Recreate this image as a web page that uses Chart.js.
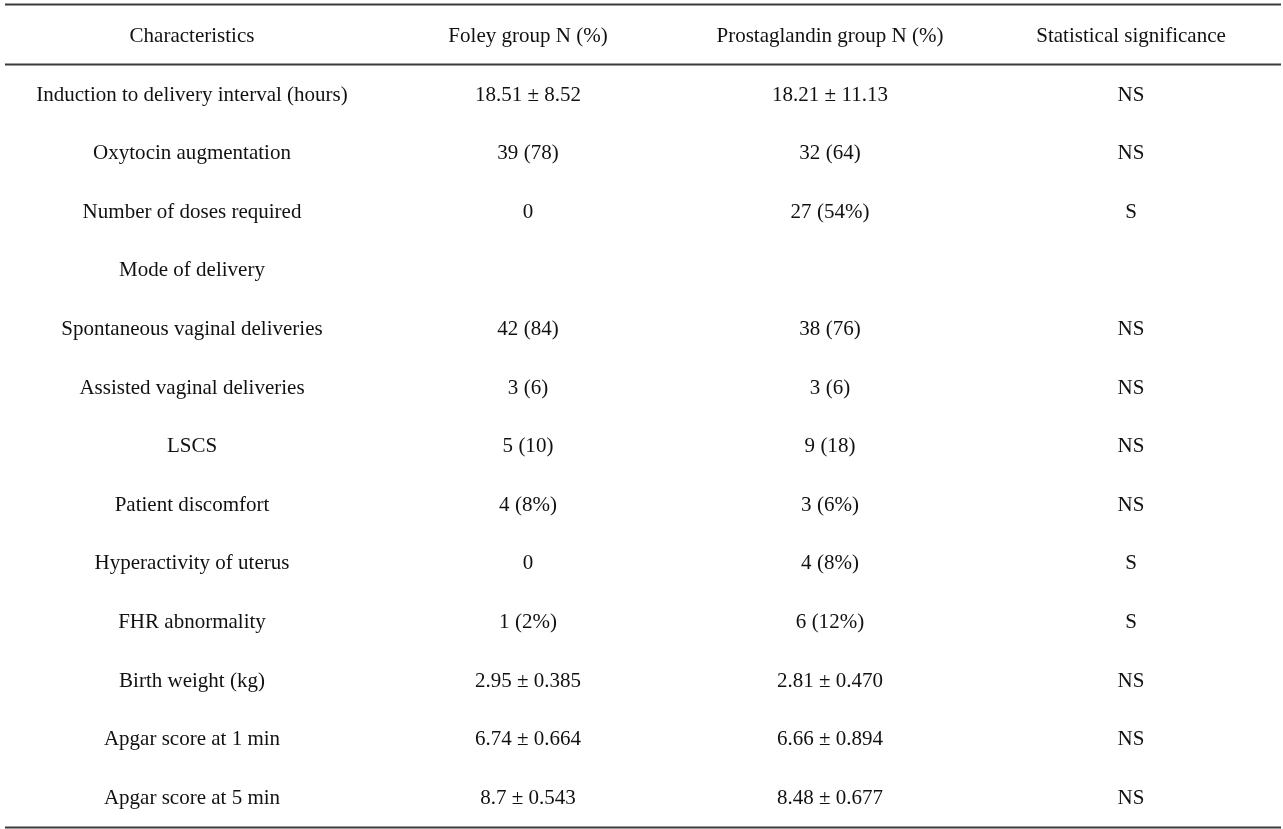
<!DOCTYPE html>
<html>
<head>
<meta charset="utf-8">
<script src="https://cdn.jsdelivr.net/npm/chart.js@4/dist/chart.umd.min.js"></script>
<style>
  html, body { margin: 0; padding: 0; background: #fff; }
  #wrap { width: 1283px; height: 829px; }
</style>
</head>
<body>
<div id="wrap"><canvas id="table"></canvas></div>
<script>
// table content
var headers = ["Characteristics", "Foley group N (%)", "Prostaglandin group N (%)", "Statistical significance"];
var characteristics = [
    "Induction to delivery interval (hours)",
    "Oxytocin augmentation",
    "Number of doses required",
    "Mode of delivery",
    "Spontaneous vaginal deliveries",
    "Assisted vaginal deliveries",
    "LSCS",
    "Patient discomfort",
    "Hyperactivity of uterus",
    "FHR abnormality",
    "Birth weight (kg)",
    "Apgar score at 1 min",
    "Apgar score at 5 min"
];
var foley = ["18.51 \u00b1 8.52", "39 (78)", "0", "", "42 (84)", "3 (6)", "5 (10)", "4 (8%)", "0", "1 (2%)", "2.95 \u00b1 0.385", "6.74 \u00b1 0.664", "8.7 \u00b1 0.543"];
var prostaglandin = ["18.21 \u00b1 11.13", "32 (64)", "27 (54%)", "", "38 (76)", "3 (6)", "9 (18)", "3 (6%)", "4 (8%)", "6 (12%)", "2.81 \u00b1 0.470", "6.66 \u00b1 0.894", "8.48 \u00b1 0.677"];
var significance = ["NS", "NS", "S", "", "NS", "NS", "NS", "NS", "S", "S", "NS", "NS", "NS"];

// layout (x in canvas units, y in row units)
var colCenters = [192, 528, 830, 1131];
var ruleRows = [-0.535, 0.488, 13.51];

var columns = [characteristics, foley, prostaglandin, significance];

var datasets = columns.map(function(col, c){
    var pts = [{x: colCenters[c], y: 0, label: headers[c]}];
    col.forEach(function(txt, r){
        pts.push({x: colCenters[c], y: r + 1, label: txt});
    });
    return { data: pts, pointRadius: 0, pointHoverRadius: 0, showLine: false };
});

var cellText = {
    id: 'cellText',
    afterDatasetsDraw: function(chart){
        var ctx = chart.ctx;
        var xs = chart.scales.x, ys = chart.scales.y;
        ctx.save();
        // horizontal rules
        ctx.strokeStyle = '#3a3a3a';
        ctx.lineWidth = 2;
        ruleRows.forEach(function(r){
            var y = Math.round(ys.getPixelForValue(r)) + 0.5;
            ctx.beginPath();
            ctx.moveTo(xs.getPixelForValue(5), y);
            ctx.lineTo(xs.getPixelForValue(1281), y);
            ctx.stroke();
        });
        // cell labels, slightly condensed like the source scan
        ctx.fillStyle = '#111';
        ctx.font = '22px "Liberation Serif", "Times New Roman", serif';
        ctx.textAlign = 'center';
        ctx.textBaseline = 'alphabetic';
        chart.data.datasets.forEach(function(ds, i){
            var meta = chart.getDatasetMeta(i);
            meta.data.forEach(function(pt, j){
                var txt = ds.data[j].label;
                if (!txt) return;
                ctx.save();
                ctx.translate(pt.x, pt.y + 7);
                ctx.scale(0.955, 1);
                ctx.fillText(txt, 0, 0);
                ctx.restore();
            });
        });
        ctx.restore();
    }
};

new Chart(document.getElementById('table').getContext('2d'), {
    type: 'scatter',
    data: { datasets: datasets },
    options: {
        responsive: true,
        maintainAspectRatio: false,
        animation: false,
        layout: { padding: 0 },
        plugins: { legend: { display: false }, tooltip: { enabled: false } },
        scales: {
            x: { type: 'linear', display: false, min: 0, max: 1283 },
            y: { type: 'linear', display: false, reverse: true, min: -0.597, max: 13.55 }
        }
    },
    plugins: [cellText]
});
</script>
</body>
</html>
